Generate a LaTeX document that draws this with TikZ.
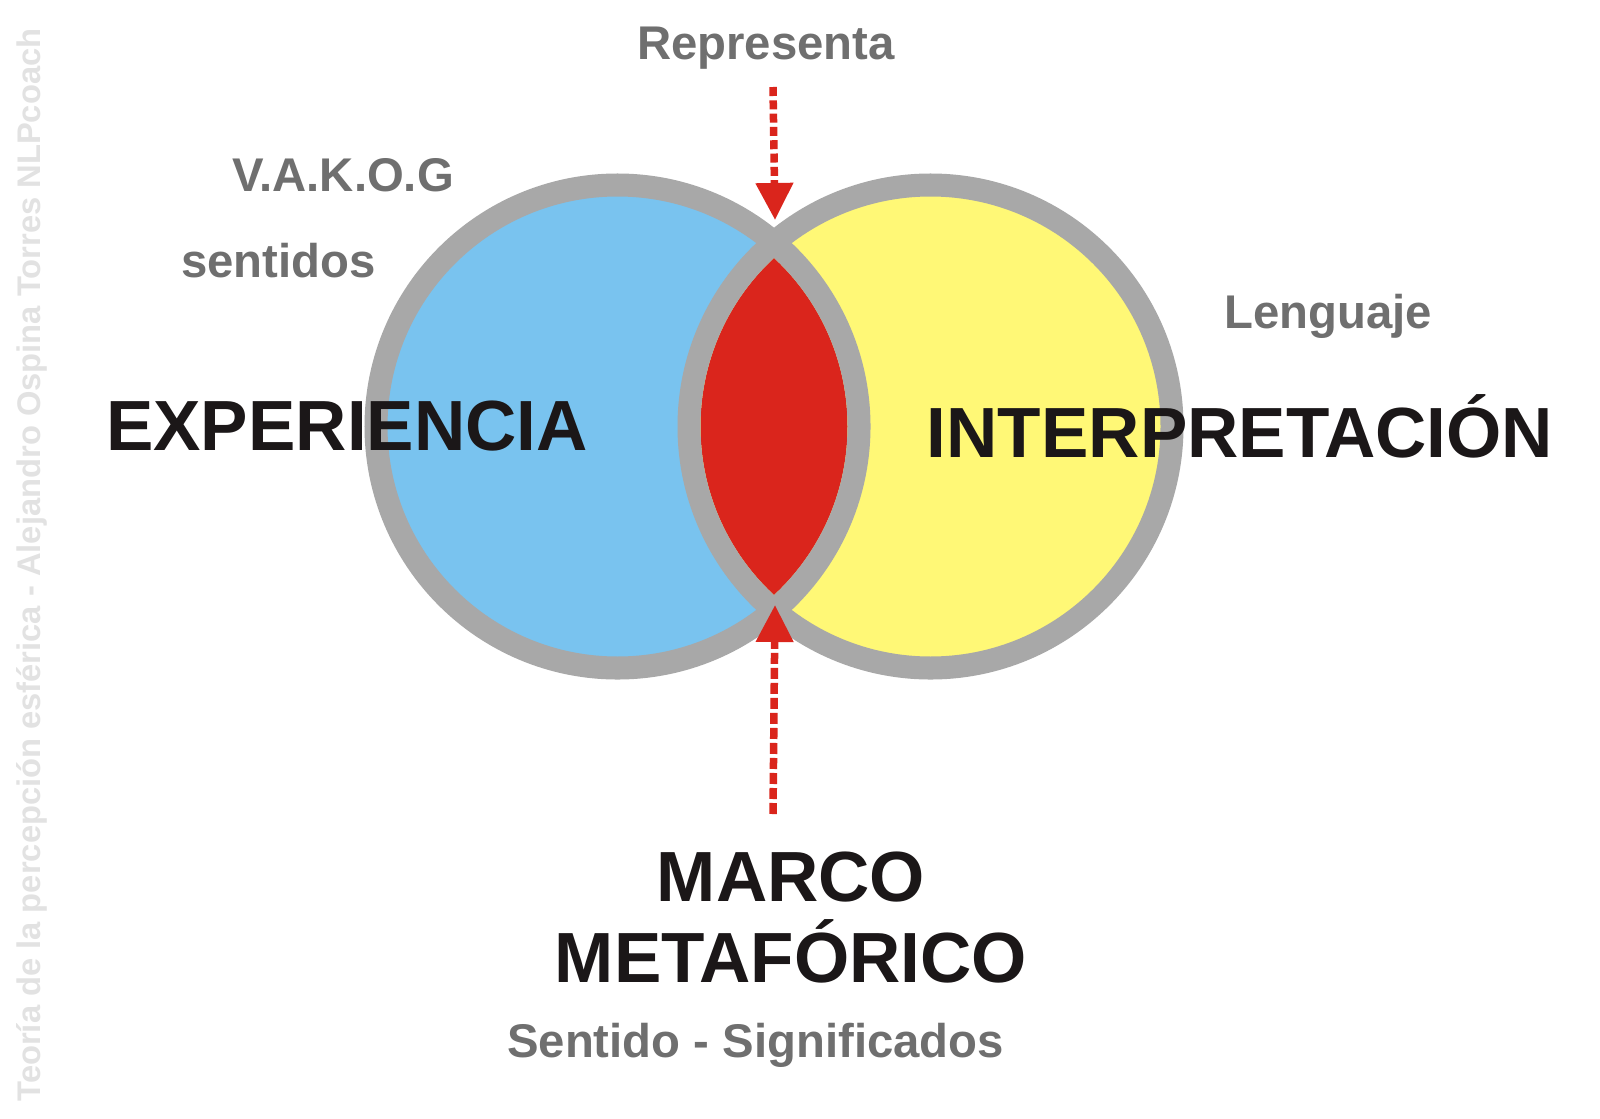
\documentclass[tikz,border=0pt]{standalone}
\usepackage{fontspec}
\setmainfont{Liberation Sans}
\usetikzlibrary{arrows.meta}
\definecolor{ringgray}{HTML}{A8A8A8}
\definecolor{skyblue}{HTML}{79C3EF}
\definecolor{paleyellow}{HTML}{FFF876}
\definecolor{lensred}{HTML}{DA251C}
\definecolor{labelgray}{HTML}{6F6F6F}
\definecolor{titleblack}{HTML}{1B1718}
\definecolor{markgray}{HTML}{E2E2E2}
\tikzset{
    sidelabel/.style={anchor=base, text=labelgray, font=\fontsize{13.45}{16}\selectfont\bfseries, inner sep=0pt},
    titlelabel/.style={anchor=base, text=titleblack, font=\fontsize{20.2}{24}\selectfont\bfseries, inner sep=0pt},
    ringline/.style={draw=ringgray, line width=0.23cm},
    redarrow/.style={draw=lensred, line width=0.075cm, -{Triangle[length=0.37cm,width=0.36cm,fill=lensred]}}
}
\begin{document}
\begin{tikzpicture}[x=0.01cm, y=-0.01cm]
    % Page: 1600 x 1118, y grows downward
    \useasboundingbox (0,0) rectangle (1600,1118);
    \fill[white] (0,0) rectangle (1600,1118);

    % Circle fills
    \fill[skyblue] (617.5,426.5) circle (241.5);
    \fill[paleyellow] (930.5,426.5) circle (241.5);

    % Overlap, inside both inner edges
    \begin{scope}
        \clip (617.5,426.5) circle (230);
        \fill[lensred] (930.5,426.5) circle (230);
    \end{scope}

    % Rings
    \draw[ringline] (617.5,426.5) circle (241.5);
    \draw[ringline] (930.5,426.5) circle (241.5);

    % Labels
    \node[sidelabel] (representa) at (766,60) {Representa};
    \node[sidelabel] (vakog) at (343,191) {V.A.K.O.G};
    \node[sidelabel] (sentidos) at (278.5,277) {sentidos};
    \node[sidelabel] (lenguaje) at (1328,328) {Lenguaje};
    \node[sidelabel] (significados) at (755.5,1057) {Sentido - Significados};
    \node[titlelabel] (experiencia) at (347,450) {EXPERIENCIA};
    \node[titlelabel] (interpretacion) at (1240,457) {INTERPRETACIÓN};
    \node[titlelabel] (marco) at (791,901) {MARCO};
    \node[titlelabel] (metaforico) at (791,982) {METAFÓRICO};

    % Watermark along the left edge
    \node[anchor=base, rotate=90, text=markgray, inner sep=0pt, font=\fontsize{9.3}{11}\selectfont\bfseries] (watermark) at (41,565) {Teoría de la percepción esférica - Alejandro Ospina Torres NLPcoach};

    % Dashed arrows
    \coordinate (topstart) at (773,87);
    \coordinate (toptip) at (775,220);
    \coordinate (bottomstart) at (773,814);
    \coordinate (bottomtip) at (775,605);
    \draw[redarrow, dash pattern=on 0.09cm off 0.043cm] (topstart) -- (toptip);
    \draw[redarrow, dash pattern=on 0.11cm off 0.04cm] (bottomstart) -- (bottomtip);
\end{tikzpicture}
\end{document}
